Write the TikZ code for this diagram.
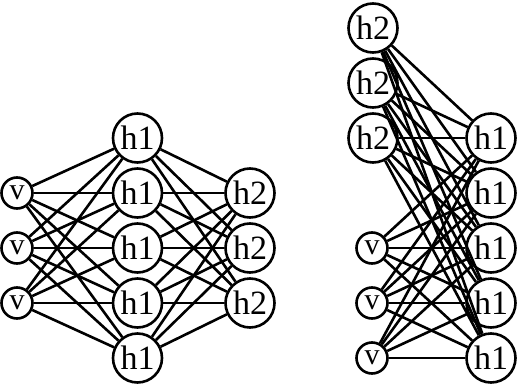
\documentclass[tikz,border=0pt]{standalone}
\usepackage{fontspec}
\setmainfont{Liberation Serif}
\begin{document}
\begin{tikzpicture}[x=1pt,y=-1pt,
  big/.style={circle,draw,line width=2.6pt,minimum size=49pt,inner sep=0pt,fill=white,font=\fontsize{34}{34}\selectfont},
  small/.style={circle,draw,line width=2.6pt,minimum size=31pt,inner sep=0pt,fill=white,font=\fontsize{30}{30}\selectfont},
  edge/.style={line width=2.6pt}]
\useasboundingbox (0,0) rectangle (519,388);
% left network
\foreach \i/\y in {1/193,2/248,3/303} \node[small] (lv\i) at (17,\y) {v};
\foreach \i/\y in {1/138,2/193,3/248,4/303,5/358} \node[big] (lh\i) at (137.5,\y) {h1};
\foreach \i/\y in {1/193,2/248,3/303} \node[big] (lg\i) at (250,\y) {h2};
% right network
\foreach \i/\y in {1/28,2/83,3/138} \node[big] (rg\i) at (373,\y) {h2};
\foreach \i/\y in {1/248,2/303,3/358} \node[small] (rv\i) at (372,\y) {v};
\foreach \i/\y in {1/138,2/193,3/248,4/303,5/358} \node[big] (rh\i) at (491,\y) {h1};
\foreach \a in {1,2,3}{
  \foreach \b in {1,...,5}{
    \draw[edge] (lv\a) -- (lh\b);
    \draw[edge] (lg\a) -- (lh\b);
    \draw[edge] (rg\a) -- (rh\b);
    \draw[edge] (rv\a) -- (rh\b);
  }
}
\end{tikzpicture}
\end{document}
